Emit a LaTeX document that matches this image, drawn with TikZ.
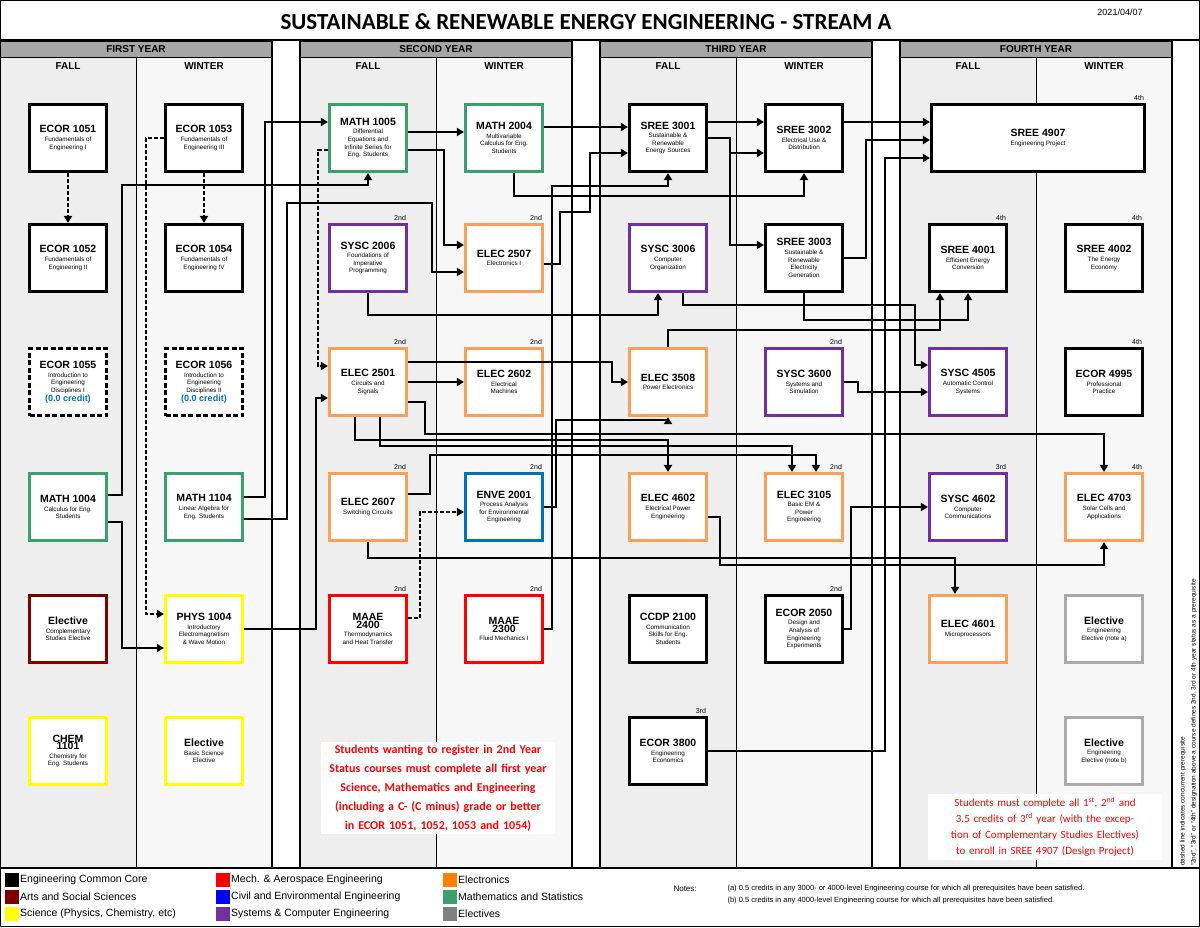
\documentclass[tikz,border=0pt]{standalone}
\usepackage{fontspec}
\setmainfont{Liberation Sans}
\newfontfamily\calfont{Carlito}
\usetikzlibrary{arrows.meta}
\definecolor{cgreen}{RGB}{60,160,110}
\definecolor{corange}{RGB}{247,160,90}
\definecolor{cpurple}{RGB}{112,48,160}
\definecolor{cred}{RGB}{255,0,0}
\definecolor{cblue}{RGB}{0,112,192}
\definecolor{cyellow}{RGB}{255,255,0}
\definecolor{cdark}{RGB}{128,0,0}
\definecolor{cgrey}{RGB}{170,170,170}
\definecolor{fallc}{RGB}{238,238,238}
\definecolor{winc}{RGB}{247,247,247}
\definecolor{hdrc}{RGB}{166,166,166}
\newcommand\ttl{\fontsize{10.5}{12}\selectfont\bfseries}
\newcommand\crs[2]{{\ttl #1}\\[1pt]#2}
\newcommand\credit{{\fontsize{9}{10}\selectfont\bfseries\color{cblue}(0.0 credit)}}
\begin{document}
\begin{tikzpicture}[x=1pt,y=-1pt,
  box/.style={draw, line width=3.2pt, minimum width=77, minimum height=67, fill=white, align=center, inner sep=1pt, font=\fontsize{6.3}{7.6}\selectfont},
  bk/.style={draw=black}, gr/.style={draw=cgreen}, org/.style={draw=corange}, pur/.style={draw=cpurple},
  rd/.style={draw=cred}, bl/.style={draw=cblue}, yl/.style={draw=cyellow}, dk/.style={draw=cdark}, gy/.style={draw=cgrey},
  dbox/.style={box, dash pattern=on 5pt off 2.5pt},
  yr/.style={label={[font=\fontsize{7}{7}\selectfont, anchor=south east, inner sep=2pt]north east:#1}},
  conn/.style={line width=2.2pt, -{Triangle[length=7pt,width=8pt]}},
  dconn/.style={conn, dash pattern=on 4pt off 2pt},
  hdr/.style={font=\fontsize{10}{10}\selectfont\bfseries},
  leg/.style={anchor=west, font=\fontsize{10.5}{11}\selectfont, inner sep=1pt}]
\useasboundingbox (0,0) rectangle (1200,927);
\fill[white] (0,0) rectangle (1200,927);
% columns
\foreach \x in {0,300,600,900}{
  \fill[fallc] (\x,57) rectangle (\x+136,868);
  \fill[winc] (\x+136,57) rectangle (\x+272,868);
  \fill[hdrc] (\x,41) rectangle (\x+272,57);
  \draw[line width=0.5pt] (\x,41) rectangle (\x+272,57);
  \draw[line width=0.6pt] (\x+136,57) -- (\x+136,868);
  \draw[line width=1.2pt] (\x,41) -- (\x,868);
  \draw[line width=1.2pt] (\x+272,41) -- (\x+272,868);
}
\draw[line width=1.2pt] (0,40) -- (1200,40);
\draw[line width=1.2pt] (0,868) -- (1200,868);
\draw[line width=1pt] (0.5,0.5) rectangle (1199.5,926.5);
\node[font=\calfont\fontsize{23}{23}\selectfont\bfseries] (title) at (586,22) {SUSTAINABLE \& RENEWABLE ENERGY ENGINEERING - STREAM A};
\node[font=\fontsize{9}{9}\selectfont] (date) at (1120,12) {2021/04/07};
\node[hdr] (y1) at (136,49) {FIRST YEAR};
\node[hdr] (y2) at (436,49) {SECOND YEAR};
\node[hdr] (y3) at (736,49) {THIRD YEAR};
\node[hdr] (y4) at (1036,49) {FOURTH YEAR};
\foreach \x/\n in {0/a,300/b,600/c,900/d}{
  \node[hdr] (f\n) at (\x+68,66) {FALL};
  \node[hdr] (w\n) at (\x+204,66) {WINTER};
}
% ---- courses
\node[box,bk] (e1051) at (68,138) {\crs{ECOR 1051}{Fundamentals of\\Engineering I}};
\node[box,bk] (e1052) at (68,258) {\crs{ECOR 1052}{Fundamentals of\\Engineering II}};
\node[dbox,bk] (e1055) at (68,382) {\crs{ECOR 1055}{Introduction to\\Engineering\\Disciplines I}\\\credit};
\node[box,gr] (m1004) at (68,507) {\crs{MATH 1004}{Calculus for Eng.\\Students}};
\node[box,dk] (el1) at (68,629) {\crs{Elective}{Complementary\\Studies Elective}};
\node[box,yl] (c1101) at (68,751) {{\ttl CHEM}\\{\ttl 1101}\\[1pt]Chemistry for\\Eng. Students};

\node[box,bk] (e1053) at (204,138) {\crs{ECOR 1053}{Fundamentals of\\Engineering III}};
\node[box,bk] (e1054) at (204,258) {\crs{ECOR 1054}{Fundamentals of\\Engineering IV}};
\node[dbox,bk] (e1056) at (204,382) {\crs{ECOR 1056}{Introduction to\\Engineering\\Disciplines II}\\\credit};
\node[box,gr] (m1104) at (204,507) {\crs{MATH 1104}{Linear Algebra for\\Eng. Students}};
\node[box,yl] (p1004) at (204,629) {\crs{PHYS 1004}{Introductory\\Electromagnetism\\\& Wave Motion}};
\node[box,yl] (el2) at (204,751) {\crs{Elective}{Basic Science\\Elective}};

\node[box,gr] (m1005) at (368,138) {\crs{MATH 1005}{Differential\\Equations and\\Infinite Series for\\Eng. Students}};
\node[box,pur,yr=2nd] (s2006) at (368,258) {\crs{SYSC 2006}{Foundations of\\Imperative\\Programming}};
\node[box,org,yr=2nd] (e2501) at (368,382) {\crs{ELEC 2501}{Circuits and\\Signals}};
\node[box,org,yr=2nd] (e2607) at (368,507) {\crs{ELEC 2607}{Switching Circuits}};
\node[box,rd,yr=2nd] (m2400) at (368,629) {{\ttl MAAE}\\{\ttl 2400}\\[1pt]Thermodynamics\\and Heat Transfer};

\node[box,gr] (m2004) at (504,138) {\crs{MATH 2004}{Multivariable\\Calculus for Eng.\\Students}};
\node[box,org,yr=2nd] (e2507) at (504,258) {\crs{ELEC 2507}{Electronics I}};
\node[box,org,yr=2nd] (e2602) at (504,382) {\crs{ELEC 2602}{Electrical\\Machines}};
\node[box,bl,yr=2nd] (e2001) at (504,507) {\crs{ENVE 2001}{Process Analysis\\for Environmental\\Engineering}};
\node[box,rd,yr=2nd] (m2300) at (504,629) {{\ttl MAAE}\\{\ttl 2300}\\[1pt]Fluid Mechanics I};

\node[box,bk] (s3001) at (668,138) {\crs{SREE 3001}{Sustainable \&\\Renewable\\Energy Sources}};
\node[box,pur] (s3006) at (668,258) {\crs{SYSC 3006}{Computer\\Organization}};
\node[box,org] (e3508) at (668,382) {\crs{ELEC 3508}{Power Electronics}};
\node[box,org] (e4602) at (668,507) {\crs{ELEC 4602}{Electrical Power\\Engineering}};
\node[box,bk] (cc2100) at (668,629) {\crs{CCDP 2100}{Communication\\Skills for Eng.\\Students}};
\node[box,bk,yr=3rd] (ec3800) at (668,751) {\crs{ECOR 3800}{Engineering\\Economics}};

\node[box,bk] (s3002) at (804,138) {\crs{SREE 3002}{Electrical Use \&\\Distribution}};
\node[box,bk] (s3003) at (804,258) {\crs{SREE 3003}{Sustainable \&\\Renewable\\Electricity\\Generation}};
\node[box,pur,yr=2nd] (sy3600) at (804,382) {\crs{SYSC 3600}{Systems and\\Simulation}};
\node[box,org,yr=2nd] (e3105) at (804,507) {\crs{ELEC 3105}{Basic EM \&\\Power\\Engineering}};
\node[box,bk,yr=2nd] (ec2050) at (804,629) {\crs{ECOR 2050}{Design and\\Analysis of\\Engineering\\Experiments}};

\node[box,bk,minimum width=213,yr=4th] (s4907) at (1038,138) {\crs{SREE 4907}{Engineering Project}};
\node[box,bk,yr=4th] (s4001) at (968,258) {\crs{SREE 4001}{Efficient Energy\\Conversion}};
\node[box,pur] (sy4505) at (968,382) {\crs{SYSC 4505}{Automatic Control\\Systems}};
\node[box,pur,yr=3rd] (sy4602) at (968,507) {\crs{SYSC 4602}{Computer\\Communications}};
\node[box,org] (e4601) at (968,629) {\crs{ELEC 4601}{Microprocessors}};

\node[box,bk,yr=4th] (s4002) at (1104,258) {\crs{SREE 4002}{The Energy\\Economy}};
\node[box,bk,yr=4th] (ec4995) at (1104,382) {\crs{ECOR 4995}{Professional\\Practice}};
\node[box,org,yr=4th] (e4703) at (1104,507) {\crs{ELEC 4703}{Solar Cells and\\Applications}};
\node[box,gy] (el3) at (1104,629) {\crs{Elective}{Engineering\\Elective (note a)}};
\node[box,gy] (el4) at (1104,751) {\crs{Elective}{Engineering\\Elective (note b)}};

% ---- connectors
\draw[dconn] (e1051) -- (e1052);
\draw[dconn] (e1053) -- (e1054);
\draw[dconn] (e1053.west) -- ++(-18,0) |- ([yshift=15]p1004.west);
\draw[conn] ([yshift=12]m1004.east) -- (122,495) -- (122,185) -| (m1005.south);
\draw[conn] ([yshift=-15]m1004.east) -- (122,522) -- (122,648) -- ([yshift=-19]p1004.west);
\draw[conn] ([yshift=10]m1104.east) -- (265,497) -- (265,122) -- ([yshift=16]m1005.west);
\draw[conn] ([yshift=-12]m1104.east) -- (287,519) -- (287,203) -- (432,203) -- (432,272) -- ([yshift=-14]e2507.west);
\draw[conn] (p1004.east) -- (316,629) -- (316,398) -- ([yshift=-16]e2501.west);
\draw[dconn] ([yshift=-12]m1005.west) -- (318,150) -- (318,366) -- ([yshift=16]e2501.west);
\draw[conn] ([yshift=6]m1005.east) -- ([yshift=6]m2004.west);
\draw[conn] ([yshift=-12]m1005.east) -- (444,150) -- (444,245) -- ([yshift=13]e2507.west);
\draw[conn] ([yshift=11]m2004.east) -- ([yshift=11]s3001.west);
\draw[conn] ([xshift=10]m2004.south) -- (514,196) -| (s3002.south);
\draw[conn] (m2300.east) -- (552,629) -- (552,186) -| (s3001.south);
\draw[conn] ([yshift=-6]e2507.east) -- (560,264) -- (560,212) -- (590,212) |- ([yshift=-15]s3001.west);
\draw[conn] ([yshift=16]s3001.east) -- ([yshift=16]s3002.west);
\draw[conn] (s3001.east) -- (730,138) |- ([yshift=-15]s3002.west);
\draw[conn] (730,150) -- (730,245) -- ([yshift=13]s3003.west);
\draw[conn] ([yshift=16]s3002.east) -- ([yshift=16]s4907.west);
\draw[conn] (s3003.east) -- (866,258) -- (866,140) -- ([yshift=-2]s4907.west);
\draw[conn] (ec3800.east) -- (885,751) -- (885,158) -- ([yshift=-20]s4907.west);
\draw[conn] (s2006.south) -- (368,315) -| ([xshift=-10]s3006.south);
\draw[conn] (e2501.east) -- (e2602.west);
\draw[conn] ([yshift=20]e2501.east) -- (612,362) |- (e3508.west);
\draw[conn] ([xshift=-13]e2501.south) -- (355,440) -| (e4602.north);
\draw[conn] ([xshift=12]e2501.south) -- (380,446) -| ([xshift=-12]e3105.north);
\draw[conn] ([yshift=-20]e2501.east) -- (425,402) -- (425,434) -| (e4703.north);
\draw[conn] (e2001.east) -- (556,507) -- (556,420) -| (e3508.south);
\draw[conn] (e2607.south) -- (368,558) -| ([xshift=-13]e4601.north);
\draw[dconn] ([yshift=11]m2400.east) -- (420,618) -- (420,512) -- ([yshift=-5]e2001.west);
\draw[conn] ([yshift=13]e2607.east) -- (430,494) -- (430,455) -| ([xshift=12]e3105.north);
\draw[conn] ([yshift=-10]e4602.east) -- (720,517) -- (720,565) -| (e4703.south);
\draw[conn] (sy3600.east) -- (858,382) -- (858,392) -- ([yshift=-10]sy4505.west);
\draw[conn] ([xshift=15]s3006.south) -- (683,305) -- (915,305) -- (915,365) -- ([yshift=17]sy4505.west);
\draw[conn] (ec2050.east) -- (851,629) |- (sy4602.west);
\draw[conn] (e3508.north) -- (668,330) -| ([xshift=-28]s4001.south);
\draw[conn] (s3003.south) -- (804,320) -| (s4001.south);
% ---- notes
\node[fill=white, text=cred, align=center, font=\calfont\fontsize{12}{19}\selectfont\bfseries, text width=228, inner sep=3pt] (n1) at (438,788)
 {Students wanting to register in 2nd Year Status courses must complete all first year Science, Mathematics and Engineering (including a C- (C~minus) grade or better in ECOR 1051, 1052, 1053 and 1054)};
\node[fill=white, text=cred, align=center, font=\calfont\fontsize{11}{16}\selectfont, text width=228, inner sep=3pt] (n2) at (1045,827)
 {Students must complete all 1\textsuperscript{st}, 2\textsuperscript{nd} and 3.5 credits of 3\textsuperscript{rd} year (with the exception of Complementary Studies Electives) to enroll in SREE 4907 (Design Project)};
\node[rotate=90, anchor=west, font=\fontsize{6.5}{7}\selectfont, inner sep=0pt] (r1) at (1183,866) {dashed line indicates concurrent prerequisite};
\node[rotate=90, anchor=west, font=\fontsize{6.5}{7}\selectfont, inner sep=0pt] (r2) at (1194,866) {``2nd'', ``3rd'' or ``4th'' designation above a course defines 2nd, 3rd or 4th year status as a prerequisite};
% ---- legend
\foreach \c/\t/\x/\y/\n in {black/Engineering Common Core/5/880/la, cdark/Arts and Social Sciences/5/897/lb, cyellow/{Science (Physics, Chemistry, etc)}/5/914/lc,
  cred/Mech. \& Aerospace Engineering/216/880/ld, blue/Civil and Environmental Engineering/216/897/le, cpurple/Systems \& Computer Engineering/216/914/lf,
  orange/Electronics/443/880/lg, cgreen/Mathematics and Statistics/443/897/lh, gray/Electives/443/914/li}{
  \fill[\c] (\x,\y-7) rectangle (\x+14,\y+7);
  \node[leg] (\n) at (\x+14,\y) {\t};
}
\node[anchor=west, font=\fontsize{8}{8}\selectfont] (notes) at (670,889) {Notes:};
\node[anchor=west, font=\fontsize{7.5}{8}\selectfont] (na) at (724,889) {(a) 0.5 credits in any 3000- or 4000-level Engineering course for which all prerequisites have been satisfied.};
\node[anchor=west, font=\fontsize{7.5}{8}\selectfont] (nb) at (724,901) {(b) 0.5 credits in any 4000-level Engineering course for which all prerequisites have been satisfied.};
\end{tikzpicture}
\end{document}
